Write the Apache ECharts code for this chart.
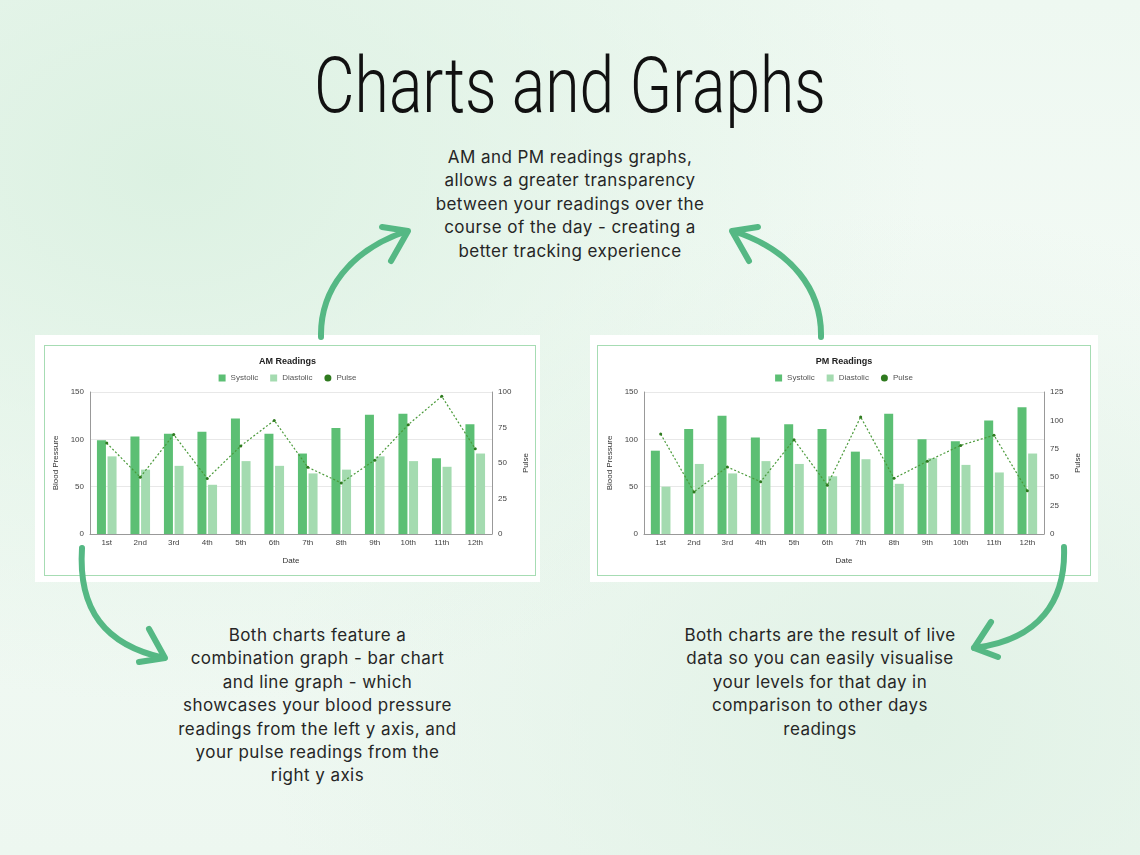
<!DOCTYPE html>
<html>
<head>
<meta charset="utf-8">
<script src="https://cdn.jsdelivr.net/npm/echarts@6/dist/echarts.min.js"></script>
<style>
  html, body { margin:0; padding:0; }
  body { width:1140px; height:855px; position:relative; overflow:hidden;
    background: radial-gradient(ellipse at 15% 20%, #dcf1e2 0%, rgba(220,241,226,0) 55%),
                radial-gradient(ellipse at 80% 85%, #e1f2e6 0%, rgba(225,242,230,0) 50%),
                linear-gradient(180deg, #eef8f1 0%, #f3faf5 40%, #edf7f0 100%);
    font-family: Inter, "Open Sans", sans-serif; color:#262626; }
  .title { position:absolute; left:0; width:1140px; top:36px; text-align:center;
    font-family: Roboto, sans-serif; font-weight:300; font-size:78px; line-height:100px;
    color:#111; transform: scaleX(0.8); letter-spacing:0px; white-space:nowrap; }
  .txt { position:absolute; text-align:center; font-size:17px; line-height:23.4px; letter-spacing:0.45px; color:#262626; white-space:nowrap; }
  .panel { position:absolute; background:#fff; }
  .border { position:absolute; border:1.5px solid #a6dcb3; box-sizing:border-box; }
  .chart { position:absolute; left:0; top:0; width:100%; height:100%; }
  svg { position:absolute; left:0; top:0; }
</style>
</head>
<body>
<div class="title">Charts and Graphs</div>
<div class="txt" style="left:360px; width:420px; top:146px;">AM and PM readings graphs,<br>allows a greater transparency<br>between your readings over the<br>course of the day - creating a<br>better tracking experience</div>
<div class="txt" style="left:130px; width:375px; top:624px;">Both charts feature a<br>combination graph - bar chart<br>and line graph - which<br>showcases your blood pressure<br>readings from the left y axis, and<br>your pulse readings from the<br>right y axis</div>
<div class="txt" style="left:650px; width:340px; top:624px;">Both charts are the result of live<br>data so you can easily visualise<br>your levels for that day in<br>comparison to other days<br>readings</div>

<div class="panel" style="left:35px; top:335px; width:505px; height:247px;">
  <div class="border" style="left:9px; top:10px; width:492px; height:231px;"></div>
  <div class="chart" id="am"></div>
</div>
<div class="panel" style="left:590px; top:335px; width:508px; height:247px;">
  <div class="border" style="left:7px; top:10px; width:494px; height:231px;"></div>
  <div class="chart" id="pm"></div>
</div>

<svg width="1140" height="855" viewBox="0 0 1140 855">
  <g fill="none" stroke="#55b884" stroke-width="6" stroke-linecap="round" stroke-linejoin="round">
    <path d="M321,337 C320,290 350,250 407,231"/>
    <path d="M382,227 L408,231 L391,261"/>
    <path d="M821,337 C822,290 792,250 733,231"/>
    <path d="M758,227 L732,231 L749,261"/>
    <path d="M82,548 C78,610 105,645 164,658"/>
    <path d="M139,662 L165,658 L149,629"/>
    <path d="M1064,547 C1066,600 1040,640 974,648"/>
    <path d="M991,622 L974,648 L998,657"/>
  </g>
</svg>

<script>
const categories = ['1st','2nd','3rd','4th','5th','6th','7th','8th','9th','10th','11th','12th'];
const amSystolic  = [99, 103, 106, 108, 122, 106, 85, 112, 126, 127, 80, 116];
const amDiastolic = [82, 68, 72, 52, 77, 72, 64, 68, 82, 77, 71, 85];
const amPulse     = [64, 40, 70, 39, 62, 80, 47, 36, 52, 77, 97, 60];
const pmSystolic  = [88, 111, 125, 102, 116, 111, 87, 127, 100, 98, 120, 134];
const pmDiastolic = [50, 74, 64, 77, 74, 61, 79, 53, 80, 73, 65, 85];
const pmPulse     = [88, 37, 59, 46, 83, 43, 103, 49, 64, 78, 87, 38];
const bpTicks = { min:0, max:150, interval:50 };
const amPulseTicks = { min:0, max:100, interval:25 };
const pmPulseTicks = { min:0, max:125, interval:25 };

const C_SYS = '#5cbf74', C_DIA = '#a4dbb0', C_PULSE = '#2f7a1f';
const FONT = 'Liberation Sans, Arial, sans-serif';

function makeOption(title, sys, dia, pulse, pTicks, g) {
  return {
    backgroundColor: 'transparent',
    animation: false,
    textStyle: { fontFamily: FONT },
    title: { text: title, left: 'center', top: 17,
      textStyle: { fontSize: 9, fontWeight: 'bold', color: '#222', fontFamily: FONT } },
    legend: { top: 34, left: 'center', itemWidth: 7, itemHeight: 7, itemGap: 12,
      textStyle: { fontSize: 8, color: '#555', fontFamily: FONT },
      data: [ { name:'Systolic', icon:'rect' }, { name:'Diastolic', icon:'rect' }, { name:'Pulse', icon:'circle' } ] },
    grid: { left: g.left, right: g.right, top: 57, bottom: 48 },
    xAxis: { type: 'category', data: categories, name: 'Date', nameLocation: 'middle', nameGap: 23,
      nameTextStyle: { fontSize: 8, color: '#333', fontFamily: FONT },
      axisLine: { lineStyle: { color: '#999' } }, axisTick: { show: false },
      axisLabel: { fontSize: 8, color: '#444', margin: 5, fontFamily: FONT } },
    yAxis: [
      { type: 'value', min: bpTicks.min, max: bpTicks.max, interval: bpTicks.interval,
        name: 'Blood Pressure', nameLocation: 'middle', nameGap: g.lgap, nameRotate: 90,
        nameTextStyle: { fontSize: 8, color: '#333', fontFamily: FONT },
        axisLine: { show: true, lineStyle: { color: '#999' } }, axisTick: { show: false },
        axisLabel: { fontSize: 8, color: '#444', margin: 6, fontFamily: FONT },
        splitLine: { lineStyle: { color: '#e8e8e8' } } },
      { type: 'value', min: pTicks.min, max: pTicks.max, interval: pTicks.interval,
        name: 'Pulse', nameLocation: 'middle', nameGap: g.rgap, nameRotate: 90,
        nameTextStyle: { fontSize: 8, color: '#333', fontFamily: FONT },
        axisLine: { show: true, lineStyle: { color: '#999' } }, axisTick: { show: false },
        axisLabel: { fontSize: 8, color: '#444', margin: 6, fontFamily: FONT },
        splitLine: { show: false } }
    ],
    series: [
      { name: 'Systolic', type: 'bar', data: sys, barWidth: 9, barGap: '18%', itemStyle: { color: C_SYS } },
      { name: 'Diastolic', type: 'bar', data: dia, barWidth: 9, itemStyle: { color: C_DIA } },
      { name: 'Pulse', type: 'line', yAxisIndex: 1, data: pulse, symbol: 'circle', symbolSize: 3,
        itemStyle: { color: C_PULSE }, lineStyle: { color: '#4a9a3a', width: 1.2, type: [2, 2] } }
    ]
  };
}

echarts.init(document.getElementById('am'), null, { renderer: 'canvas' })
  .setOption(makeOption('AM Readings', amSystolic, amDiastolic, amPulse, amPulseTicks, { left: 55, right: 48, lgap: 29, rgap: 23 }));
echarts.init(document.getElementById('pm'), null, { renderer: 'canvas' })
  .setOption(makeOption('PM Readings', pmSystolic, pmDiastolic, pmPulse, pmPulseTicks, { left: 54, right: 54, lgap: 28, rgap: 27 }));
</script>
</body>
</html>
